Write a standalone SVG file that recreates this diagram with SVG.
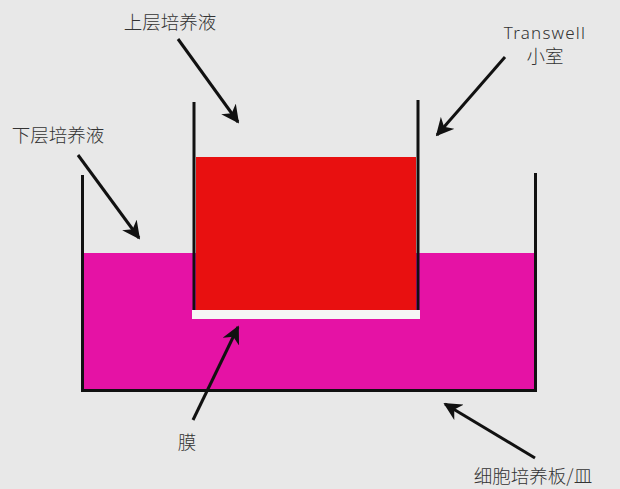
<svg xmlns="http://www.w3.org/2000/svg" width="620" height="489" viewBox="0 0 620 489">
  <style>
    .wall { stroke: #111; stroke-width: 3; fill: none; stroke-linecap: butt; }
    .arrow { stroke: #111; stroke-width: 3; fill: none; marker-end: url(#ah); }
    .lbl { font-family: "Noto Sans CJK SC", "Noto Sans", sans-serif; font-size: 18.5px; font-weight: 300; fill: #333; }
    .lat { font-family: "Noto Sans", "DejaVu Sans", sans-serif; font-size: 17px; font-weight: 300; fill: #333; letter-spacing: 1.2px; }
  </style>
  <defs>
    <marker id="ah" viewBox="0 0 10 10" refX="9" refY="5" markerWidth="6" markerHeight="6" markerUnits="strokeWidth" orient="auto">
      <path d="M0,0 L10,5 L0,10 L3,5 Z" fill="#111"/>
    </marker>
  </defs>
  <rect width="620" height="489" fill="#e8e8e8"/>

  <g id="lower-medium">
    <rect x="84" y="253" width="450" height="137" fill="#e512a5"/>
  </g>

  <g id="plate">
    <polyline class="wall" points="82.5,175 82.5,390.5 535.5,390.5 535.5,173"/>
  </g>

  <g id="insert">
    <rect x="196" y="157" width="220" height="153" fill="#e81010"/>
    <line class="wall" x1="194" y1="102" x2="194" y2="312"/>
    <line class="wall" x1="418" y1="100" x2="418" y2="312"/>
  </g>

  <g id="membrane">
    <rect x="192" y="310" width="228" height="9" fill="#f6f6f6"/>
  </g>

  <g id="connectors">
    <line class="arrow" x1="178" y1="39" x2="238" y2="122"/>
    <line class="arrow" x1="505" y1="57" x2="437" y2="135"/>
    <line class="arrow" x1="78" y1="155" x2="139" y2="238"/>
    <line class="arrow" x1="193" y1="420" x2="238" y2="327"/>
    <line class="arrow" x1="535" y1="458" x2="445" y2="404"/>
  </g>

  <g id="label-upper">
    <text class="lbl" x="170" y="29" text-anchor="middle">上层培养液</text>
  </g>
  <g id="label-transwell">
    <text class="lat" x="545" y="39" text-anchor="middle">Transwell</text>
    <text class="lbl" x="545" y="63" text-anchor="middle">小室</text>
  </g>
  <g id="label-lower">
    <text class="lbl" x="58" y="142" text-anchor="middle">下层培养液</text>
  </g>
  <g id="label-membrane">
    <text class="lbl" x="187" y="449" text-anchor="middle">膜</text>
  </g>
  <g id="label-plate">
    <text class="lbl" x="533" y="483" text-anchor="middle">细胞培养板/皿</text>
  </g>
</svg>
